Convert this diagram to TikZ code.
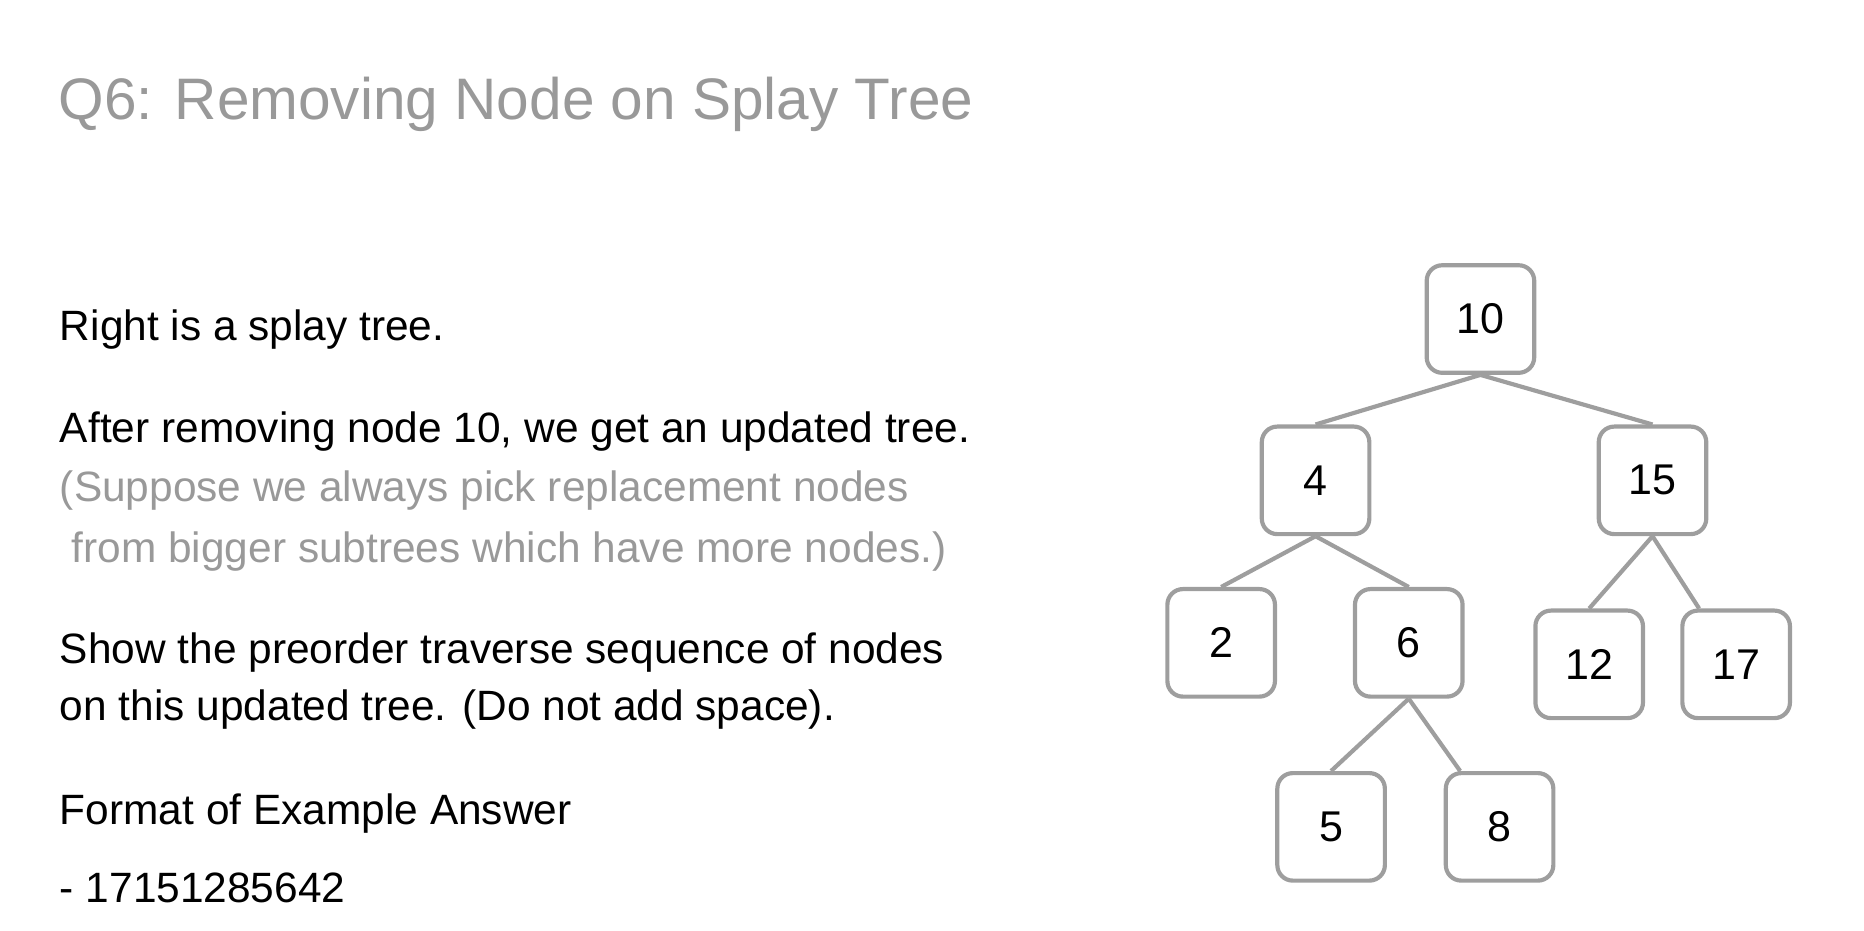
\documentclass[tikz,border=0pt]{standalone}
\usepackage{fontspec}
\setmainfont{Liberation Sans}
\definecolor{lg}{HTML}{9E9E9E}
\definecolor{tg}{HTML}{999999}
\begin{document}
\begin{tikzpicture}[x=1pt,y=-1pt,
  tn/.style={draw=lg,line width=3.5pt,rounded corners=13pt,minimum width=90pt,minimum height=90pt,inner sep=0pt,font=\fontsize{36}{42}\selectfont},
  ed/.style={draw=lg,line width=3.5pt},
  tx/.style={anchor=base west,inner sep=0pt,font=\fontsize{35.5}{42}\selectfont}]
\useasboundingbox (0,0) rectangle (1560,779);
\node[anchor=base west,inner sep=0pt,text=tg,font=\fontsize{49}{58}\selectfont] (title) at (49,100) {Q6: Removing Node on Splay Tree};
\node[tx] (l1) at (50,285) {Right is a splay tree.};
\node[tx] (l2) at (50,370) {After removing node 10, we get an updated tree.};
\node[tx,text=tg] (l3) at (50,420) {(Suppose we always pick replacement nodes};
\node[tx,text=tg] (l4) at (50,471) {\ from bigger subtrees which have more nodes.)};
\node[tx] (l5) at (50,555) {Show the preorder traverse sequence of nodes};
\node[tx] (l6) at (50,603) {on this updated tree. (Do not add space).};
\node[tx] (l7) at (50,690) {Format of Example Answer};
\node[tx] (l8) at (50,755) {- 17151285642};
\node[tn] (n10) at (1239,267) {10};
\node[tn] (n4) at (1101,402) {4};
\node[tn] (n15) at (1383,402) {15};
\node[tn] (n2) at (1022,538) {2};
\node[tn] (n6) at (1179,538) {6};
\node[tn] (n12) at (1330,556) {12};
\node[tn] (n17) at (1453,556) {17};
\node[tn] (n5) at (1114,692) {5};
\node[tn] (n8) at (1255,692) {8};
\draw[ed] (n10.south) -- (n4.north);
\draw[ed] (n10.south) -- (n15.north);
\draw[ed] (n4.south) -- (n2.north);
\draw[ed] (n4.south) -- (n6.north);
\draw[ed] (n15.south) -- (n12.north);
\draw[ed] (n15.south) -- ([xshift=-31pt]n17.north);
\draw[ed] (n6.south) -- (n5.north);
\draw[ed] (n6.south) -- ([xshift=-33pt]n8.north);
\end{tikzpicture}
\end{document}
